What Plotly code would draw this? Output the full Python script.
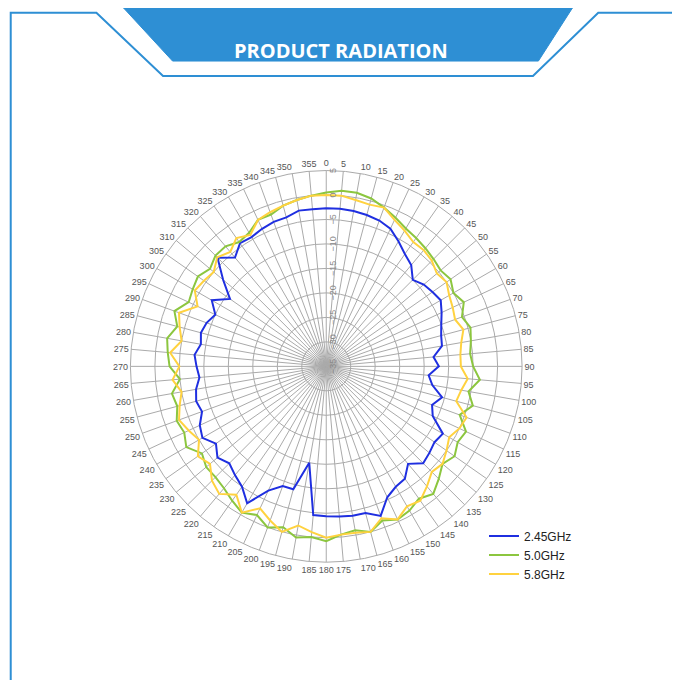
import plotly.graph_objects as go

theta = list(range(0, 365, 5))
tick_vals = list(range(0, 360, 5))
tick_text = [str(v) for v in tick_vals]
s245 = [-2.7,-2.7,-2.8,-3,-3.3,-4,-5.5,-7,-8,-10,-9,-8.5,-8,-9,-10,-10.7,-11,-13,-12,-14,-13,-10.5,-12,-11,-7.5,-8,-7.5,-7,-9,-7,-6.6,-5.5,-2.5,-4,-4,-4.2,-4.4,-4.5,-15,-9,-9,-7,-2.7,-5,-6,-7,-6,-7.5,-5.8,-6.5,-8,-7.5,-8,-9,-8.5,-8,-9,-8.5,-9,-10,-8,-11,-7.5,-3.6,-6,-4.3,-4.5,-4,-3.6,-3.5,-2.7,-2.8,-2.7]
s50 = [0.5,1,1,0.5,-0.5,-1.5,-2.5,-3,-3.5,-4,-4.5,-4,-5,-4,-5.5,-4.5,-5,-5.5,-5,-3.5,-5.5,-4,-6,-3.5,-4,-3,-4,-2.5,-1,-2,-1,-0.5,-1.5,0,-1,-0.5,0.7,0,0.5,-1,0,-1.5,-0.5,-1.5,-2.5,-3,-3,-4,-2,-3,-2.5,-3.5,-3,-5,-3,-2.5,-2,-3.5,-2,-4,-3.5,-3,-4,-3,-3,-4,-3.5,-2,-2,-1,-0.5,0,0.5]
s58 = [0,0,-0.5,-0.8,-0.5,-2,-3,-4,-4,-4.5,-5.5,-5,-6,-6.5,-7,-6,-7,-7.5,-7.5,-6,-7,-7.5,-4.5,-5,-6,-5,-4,-4.5,-3,-1.5,-2,-0.5,-2,0,-0.5,-0.5,0,-1,-2,0,-1.5,-3,-0.5,-3,-1,-2,-4,-3,-5,-4,-3,-4,-5,-3.5,-5,-3,-5,-4,-3,-6,-4,-4.5,-5,-3.5,-4.5,-3,-4,-2,-1.5,-1,-0.5,0,0]
names = ["2.45GHz", "5.0GHz", "5.8GHz"]
colors = ["#1f2fe0", "#8cc63f", "#ffd23f"]

fig = go.Figure()
for vals, n, c in zip([s245, s50, s58], names, colors):
    fig.add_trace(go.Scatterpolar(r=vals, theta=theta, mode="lines", name=n,
                                  line=dict(color=c, width=2)))

fig.update_layout(
    width=680, height=680, margin=dict(l=0, r=0, t=0, b=0),
    paper_bgcolor="white", plot_bgcolor="white",
    font=dict(family="Liberation Sans, Arial", size=9, color="#555"),
    polar=dict(
        domain=dict(x=[0.18, 0.756], y=[0.185, 0.761]),
        bgcolor="white",
        angularaxis=dict(direction="clockwise", rotation=90,
                         tickmode="array", tickvals=tick_vals, ticktext=tick_text,
                         gridcolor="#aaa", linecolor="#aaa",
                         gridwidth=1, ticks="", tickfont=dict(size=9, color="#555")),
        radialaxis=dict(range=[-35, 5], dtick=5, tick0=-35, angle=90, tickangle=0,
                        gridcolor="#aaa", showline=False,
                        ticks="", tickfont=dict(size=9, color="#888")),
    ),
    legend=dict(x=0.7, y=0.245, xanchor="left", yanchor="top",
                font=dict(size=12, color="#222"), bgcolor="rgba(0,0,0,0)"),
    shapes=[
        dict(type="path", xref="paper", yref="paper", layer="below",
             path="M 0.004,0.993 L 0.13,0.993 L 0.228,0.9 L 0.772,0.9 L 0.868,0.993 L 0.994,0.993 L 0.994,0.006 L 0.004,0.006 Z",
             line=dict(color="#2e8fd4", width=2)),
        dict(type="path", xref="paper", yref="paper", layer="below",
             path="M 0.17,1 L 0.83,1 L 0.78,0.922 L 0.242,0.922 Z",
             fillcolor="#2e8fd4", line=dict(color="#2e8fd4", width=1)),
    ],
    annotations=[dict(text="<b>PRODUCT RADIATION</b>", x=0.49, y=0.96, xref="paper", yref="paper",
                      showarrow=False, font=dict(size=20, color="white", family="Open Sans"))],
)
fig.write_html("out.html")
